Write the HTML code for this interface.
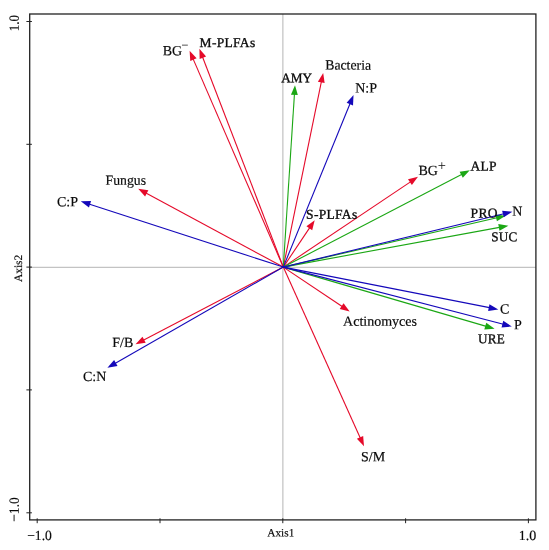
<!DOCTYPE html>
<html><head><meta charset="utf-8"><title>RDA biplot</title>
<style>
html,body{margin:0;padding:0;background:#fff;}
svg{display:block;}
text{font-family:"Liberation Serif",serif;fill:#0a0a0a;stroke:#0a0a0a;stroke-width:0.18px;}
.a{font-size:14px;}
.b{font-size:13.5px;letter-spacing:0.3px;stroke-width:0.32px;}
.t{font-size:14px;}
.ax{font-size:11.3px;}
</style></head>
<body>
<svg width="549" height="550" viewBox="0 0 549 550">
<rect width="549" height="550" fill="#fff"/>
<g stroke="#b4b4b4" stroke-width="1">
<line x1="29.7" y1="267.3" x2="535.9" y2="267.3"/>
<line x1="282.9" y1="14.0" x2="282.9" y2="519.9"/>
</g>
<g>
<line x1="283.3" y1="267.1" x2="192.66" y2="57.87" stroke="#e50a2a" stroke-width="1.1"/>
<polygon points="189.60,50.80 196.62,58.33 190.29,61.07" fill="#e50a2a"/>
<line x1="283.3" y1="267.1" x2="202.16" y2="55.99" stroke="#e50a2a" stroke-width="1.1"/>
<polygon points="199.40,48.80 206.10,56.62 199.66,59.09" fill="#e50a2a"/>
<line x1="283.3" y1="267.1" x2="321.65" y2="80.44" stroke="#e50a2a" stroke-width="1.1"/>
<polygon points="323.20,72.90 324.63,83.10 317.87,81.71" fill="#e50a2a"/>
<line x1="283.3" y1="267.1" x2="144.98" y2="192.46" stroke="#e50a2a" stroke-width="1.1"/>
<polygon points="138.20,188.80 148.37,190.37 145.10,196.44" fill="#e50a2a"/>
<line x1="283.3" y1="267.1" x2="142.33" y2="340.64" stroke="#e50a2a" stroke-width="1.1"/>
<polygon points="135.50,344.20 142.50,336.65 145.70,342.77" fill="#e50a2a"/>
<line x1="283.3" y1="267.1" x2="310.42" y2="226.60" stroke="#e50a2a" stroke-width="1.1"/>
<polygon points="314.70,220.20 312.17,230.18 306.44,226.34" fill="#e50a2a"/>
<line x1="283.3" y1="267.1" x2="411.60" y2="181.09" stroke="#e50a2a" stroke-width="1.1"/>
<polygon points="418.00,176.80 411.86,185.07 408.02,179.34" fill="#e50a2a"/>
<line x1="283.3" y1="267.1" x2="343.30" y2="307.22" stroke="#e50a2a" stroke-width="1.1"/>
<polygon points="349.70,311.50 339.72,308.98 343.55,303.24" fill="#e50a2a"/>
<line x1="283.3" y1="267.1" x2="360.84" y2="439.18" stroke="#e50a2a" stroke-width="1.1"/>
<polygon points="364.00,446.20 356.87,438.77 363.16,435.94" fill="#e50a2a"/>
<line x1="283.3" y1="267.1" x2="294.51" y2="92.88" stroke="#1ba714" stroke-width="1.1"/>
<polygon points="295.00,85.20 297.82,95.10 290.93,94.66" fill="#1ba714"/>
<line x1="283.3" y1="267.1" x2="462.97" y2="173.85" stroke="#1ba714" stroke-width="1.1"/>
<polygon points="469.80,170.30 462.78,177.83 459.60,171.71" fill="#1ba714"/>
<line x1="283.3" y1="267.1" x2="498.10" y2="217.53" stroke="#1ba714" stroke-width="1.1"/>
<polygon points="505.60,215.80 496.92,221.34 495.37,214.62" fill="#1ba714"/>
<line x1="283.3" y1="267.1" x2="500.83" y2="227.09" stroke="#1ba714" stroke-width="1.1"/>
<polygon points="508.40,225.70 499.48,230.85 498.24,224.06" fill="#1ba714"/>
<line x1="283.3" y1="267.1" x2="487.21" y2="326.64" stroke="#1ba714" stroke-width="1.1"/>
<polygon points="494.60,328.80 484.32,329.39 486.26,322.77" fill="#1ba714"/>
<line x1="283.3" y1="267.1" x2="350.59" y2="102.23" stroke="#1408ba" stroke-width="1.1"/>
<polygon points="353.50,95.10 353.03,105.38 346.64,102.78" fill="#1408ba"/>
<line x1="283.3" y1="267.1" x2="88.12" y2="203.68" stroke="#1408ba" stroke-width="1.1"/>
<polygon points="80.80,201.30 91.09,201.02 88.96,207.58" fill="#1408ba"/>
<line x1="283.3" y1="267.1" x2="114.08" y2="363.97" stroke="#1408ba" stroke-width="1.1"/>
<polygon points="107.40,367.80 114.10,359.99 117.53,365.97" fill="#1408ba"/>
<line x1="283.3" y1="267.1" x2="504.92" y2="213.51" stroke="#1408ba" stroke-width="1.1"/>
<polygon points="512.40,211.70 503.78,217.33 502.16,210.63" fill="#1408ba"/>
<line x1="283.3" y1="267.1" x2="490.74" y2="307.91" stroke="#1408ba" stroke-width="1.1"/>
<polygon points="498.30,309.40 488.12,310.91 489.45,304.14" fill="#1408ba"/>
<line x1="283.3" y1="267.1" x2="504.35" y2="324.56" stroke="#1408ba" stroke-width="1.1"/>
<polygon points="511.80,326.50 501.54,327.40 503.28,320.72" fill="#1408ba"/>
</g>
<rect x="29.7" y="14.0" width="506.2" height="505.9" fill="none" stroke="#222" stroke-width="1.3"/>
<g stroke="#222" stroke-width="1">
<line x1="37.2" y1="518.3" x2="37.2" y2="523.2"/>
<line x1="26.4" y1="512.8" x2="31.9" y2="512.8"/>
<line x1="160.0" y1="518.3" x2="160.0" y2="523.2"/>
<line x1="26.4" y1="389.9" x2="31.9" y2="389.9"/>
<line x1="282.8" y1="518.3" x2="282.8" y2="523.2"/>
<line x1="26.4" y1="267.1" x2="31.9" y2="267.1"/>
<line x1="405.6" y1="518.3" x2="405.6" y2="523.2"/>
<line x1="26.4" y1="144.3" x2="31.9" y2="144.3"/>
<line x1="528.4" y1="518.3" x2="528.4" y2="523.2"/>
<line x1="26.4" y1="21.5" x2="31.9" y2="21.5"/>
</g>
<g>
<text class="a" transform="translate(162.7,55.2) rotate(0.05) scale(1,1)">BG<tspan dx="-0.6" dy="-6.2" font-size="12" stroke-width="0.15">−</tspan></text>
<text class="b" transform="translate(199.6,46.9) rotate(0.05) scale(1,1)">M-PLFAs</text>
<text class="a" transform="translate(325.2,69.6) rotate(0.05) scale(0.985,1)">Bacteria</text>
<text class="b" style="font-size:13.2px;letter-spacing:0" transform="translate(281.3,82.3) rotate(0.05) scale(1,1)">AMY</text>
<text class="a" transform="translate(355.2,92.6) rotate(0.05) scale(1,1)">N:P</text>
<text class="a" transform="translate(105.6,184.7) rotate(0.05) scale(0.98,1)">Fungus</text>
<text class="a" transform="translate(57.0,206.3) rotate(0.05) scale(1,1)">C:P</text>
<text class="b" transform="translate(306.1,218.8) rotate(0.05) scale(1,1)">S-PLFAs</text>
<text class="a" transform="translate(418.4,175.0) rotate(0.05) scale(1,1)">BG<tspan dy="-4.5" font-size="14.5" stroke="none">+</tspan></text>
<text class="b" transform="translate(470.4,170.5) rotate(0.05) scale(1,1)">ALP</text>
<text class="b" transform="translate(470.6,217.4) rotate(0.05) scale(1,1)">PRO</text>
<text class="a" transform="translate(512.2,215.8) rotate(0.05) scale(1,1)">N</text>
<text class="b" transform="translate(491.2,241.3) rotate(0.05) scale(0.975,1)">SUC</text>
<text class="a" transform="translate(500.0,313.6) rotate(0.05) scale(1,1)">C</text>
<text class="a" transform="translate(514.0,329.3) rotate(0.05) scale(1,1)">P</text>
<text class="b" transform="translate(478.0,343.2) rotate(0.05) scale(0.975,1)">URE</text>
<text class="a" transform="translate(343.1,325.8) rotate(0.05) scale(1,1)">Actinomyces</text>
<text class="a" transform="translate(112.2,347.1) rotate(0.05) scale(1,1)">F/B</text>
<text class="a" transform="translate(82.9,381.0) rotate(0.05) scale(1,1)">C:N</text>
<text class="a" transform="translate(361.0,461.3) rotate(0.05) scale(1,1)">S/M</text>
</g>
<text class="t" transform="translate(27.2,539.9) rotate(0.05) scale(0.97,1)">−1.0</text>
<text class="t" transform="translate(518.7,539.9) rotate(0.05)">1.0</text>
<text class="ax" transform="translate(267.3,536.4) rotate(0.05)">Axis1</text>
<text class="t" transform="translate(18.7,521.8) rotate(-89.95) scale(0.97,1)">−1.0</text>
<text class="t" transform="translate(18.7,31.2) rotate(-89.95) scale(0.93,1)">1.0</text>
<text class="ax" style="font-size:11.4px" transform="translate(22.0,282) rotate(-89.95)">Axis2</text>
</svg>
</body></html>
